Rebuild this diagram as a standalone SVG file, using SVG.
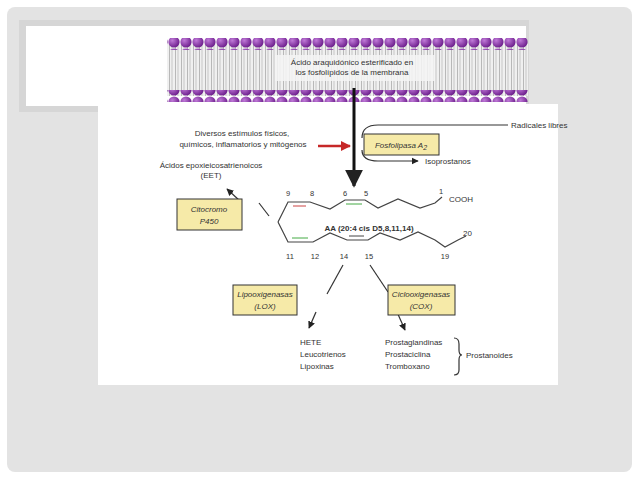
<svg xmlns="http://www.w3.org/2000/svg" width="638" height="479" viewBox="0 0 638 479">
<defs>
<style>
text{font-family:"Liberation Sans",Arial,sans-serif;fill:#333;font-size:8px}
.it{font-style:italic}
.box{fill:#f6eaa8;stroke:#333;stroke-width:1}
.ln{fill:none;stroke:#333;stroke-width:1.2}
.ch{fill:none;stroke:#444;stroke-width:1.2}
.n{text-anchor:middle;font-size:7.5px}
</style>
<marker id="ah" viewBox="0 0 10 10" refX="9" refY="5" markerWidth="6" markerHeight="6" orient="auto"><path d="M0,0L10,5L0,10z" fill="#222"/></marker>
<marker id="ar" viewBox="0 0 10 10" refX="9" refY="5" markerWidth="4" markerHeight="4" orient="auto"><path d="M0,0L10,5L0,10z" fill="#c62828"/></marker>
<radialGradient id="ball" cx="0.35" cy="0.35" r="0.7"><stop offset="0" stop-color="#c07ad8"/><stop offset="1" stop-color="#6a1b8a"/></radialGradient>
<pattern id="tails" width="6" height="52" patternUnits="userSpaceOnUse"><rect width="6" height="52" fill="#f0f0f0"/><line x1="1.5" y1="0" x2="1.5" y2="52" stroke="#aaa" stroke-width="0.8"/><line x1="4" y1="0" x2="4" y2="52" stroke="#bbb" stroke-width="0.8"/></pattern>
<pattern id="heads" width="12" height="12" patternUnits="userSpaceOnUse"><circle cx="6" cy="6" r="5.6" fill="url(#ball)"/></pattern>
</defs>
<rect width="638" height="479" fill="#fff"/>
<rect x="7" y="7" width="625" height="465" rx="8" fill="#e3e3e3"/>
<rect x="19" y="20" width="510" height="92" fill="#d6d6d6"/>
<rect x="26" y="26" width="500" height="80" fill="#fff"/>
<rect x="98" y="104" width="460" height="281" fill="#fff"/>
<g id="membrane">
<rect x="167" y="44" width="361" height="52" fill="url(#tails)"/>
<rect x="167" y="38" width="361" height="12" fill="url(#heads)"/>
<rect x="167" y="90" width="361" height="12" fill="url(#heads)"/>
<rect x="275" y="55" width="160" height="26" fill="#f4f4f4" opacity="0.85"/>
<text x="352" y="65" text-anchor="middle">Ácido araquidónico esterificado en</text>
<text x="352" y="75" text-anchor="middle">los fosfolípidos de la membrana</text>
</g>
<g id="connectors">
<line x1="354" y1="88" x2="354" y2="186" stroke="#111" stroke-width="3" marker-end="url(#ah)"/>
<line x1="318" y1="146" x2="350" y2="146" stroke="#c62828" stroke-width="2.5" marker-end="url(#ar)"/>
<path class="ln" d="M362,138 Q362,125 378,125 L508,125"/>
<path class="ln" d="M362,150 Q362,161 378,161 L418,161" marker-end="url(#ah)"/>
<line class="ln" x1="240" y1="201" x2="227" y2="189" marker-end="url(#ah)"/>
<line class="ln" x1="259" y1="203" x2="269" y2="216"/>
<line class="ln" x1="343" y1="265" x2="327" y2="294"/>
<line class="ln" x1="316" y1="312" x2="309" y2="328" marker-end="url(#ah)"/>
<line class="ln" x1="370" y1="265" x2="388" y2="292"/>
<line class="ln" x1="397" y1="312" x2="405" y2="330" marker-end="url(#ah)"/>
</g>
<g id="stimuli"><text x="242" y="136" text-anchor="middle">Diversos estímulos físicos,</text><text x="243" y="147" text-anchor="middle">químicos, inflamatorios y mitógenos</text></g>
<g id="pla2"><rect class="box" x="364" y="134" width="75" height="21"/><text class="it" x="401" y="148" text-anchor="middle" font-size="9">Fosfolipasa A<tspan font-size="7" dy="2">2</tspan></text></g>
<text x="511" y="128">Radicales libres</text>
<text x="425" y="164">Isoprostanos</text>
<g id="eet"><text x="211" y="168" text-anchor="middle">Ácidos epoxieicosatrienoicos</text><text x="211" y="178" text-anchor="middle" font-size="7">(EET)</text></g>
<g id="p450"><rect class="box" x="177" y="199" width="65" height="31"/><text class="it" x="209" y="212" text-anchor="middle">Citocromo</text><text class="it" x="209" y="224" text-anchor="middle">P450</text></g>
<g id="aa">
<path class="ch" d="M278,222 L288,202 L310,202 L330,209 L345,200 L365,200 L378,208 L398,199 L420,208 L435,203 L442,197"/>
<path class="ch" d="M278,222 L288,242 L313,242 L330,233 L347,240 L368,240 L380,233 L400,240 L418,232 L435,240 L445,247 L458,240 L466,236"/>
<line x1="293" y1="206" x2="306" y2="206" stroke="#c44" stroke-width="1"/>
<line x1="346" y1="204" x2="362" y2="204" stroke="#4a4" stroke-width="1"/>
<line x1="292" y1="238" x2="308" y2="238" stroke="#4a4" stroke-width="1"/>
<line x1="349" y1="236" x2="364" y2="236" stroke="#444" stroke-width="1"/>
<text x="369" y="231" text-anchor="middle" font-weight="bold" font-size="9.5">AA (20:4 cis D5,8,11,14)</text>
<text class="n" x="288" y="196">9</text><text class="n" x="312" y="196">8</text><text class="n" x="345" y="196">6</text><text class="n" x="366" y="196">5</text><text class="n" x="441" y="194">1</text>
<text x="449" y="202">COOH</text>
<text x="463" y="236">20</text>
<text class="n" x="290" y="259">11</text><text class="n" x="315" y="259">12</text><text class="n" x="344" y="259">14</text><text class="n" x="369" y="259">15</text><text class="n" x="445" y="259">19</text>
</g>
<g id="lox"><rect class="box" x="233" y="285" width="64" height="30"/><text class="it" x="265" y="297" text-anchor="middle">Lipooxigenasas</text><text class="it" x="265" y="309" text-anchor="middle">(LOX)</text></g>
<g id="cox"><rect class="box" x="388" y="285" width="67" height="30"/><text class="it" x="421" y="297" text-anchor="middle">Ciclooxigenasas</text><text class="it" x="421" y="309" text-anchor="middle">(COX)</text></g>
<g id="loxprod"><text x="300" y="345">HETE</text><text x="300" y="357">Leucotrienos</text><text x="300" y="369">Lipoxinas</text></g>
<g id="coxprod"><text x="385" y="345">Prostaglandinas</text><text x="385" y="357">Prostaciclina</text><text x="385" y="369">Tromboxano</text>
<path class="ln" stroke-width="0.8" d="M454,338 Q459,338 459,344 L459,350 Q459,355 462,355 Q459,355 459,360 L459,370 Q459,375 454,375"/>
<text x="466" y="358">Prostanoides</text></g>
</svg>
